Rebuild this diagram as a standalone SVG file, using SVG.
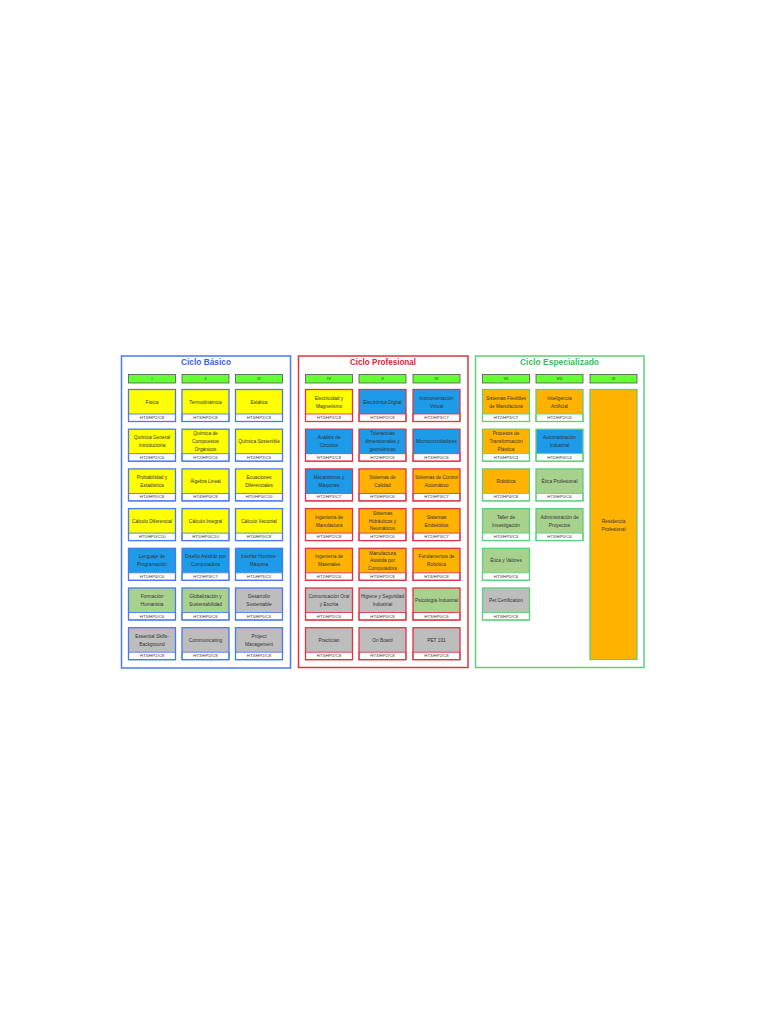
<svg xmlns="http://www.w3.org/2000/svg" width="768" height="1024" viewBox="0 0 768 1024">
<style>
.bg{fill:#fff}
.panel{fill:#fff;stroke-width:1.5}
.pb .panel,.pb .o,.pb .k{stroke:#4a78f0}
.pr .panel,.pr .o,.pr .k{stroke:#dc3545}
.pg .panel,.pg .o,.pg .k{stroke:#5ccf7a}
.o{fill:none;stroke-width:1.3}
.k{fill:#fff;stroke-width:0.9}
.title{font-family:"Liberation Sans",Arial,sans-serif;font-weight:bold;font-size:8.5px;text-anchor:middle}
.pb .title{fill:#3d5ff0}
.pr .title{fill:#d42a3c}
.pg .title{fill:#3dbb5e}
.h{fill:#66ff33;stroke:#555;stroke-width:0.8}
.ht{font-family:"Liberation Sans",Arial,sans-serif;font-size:4px;fill:#333;text-anchor:middle}
.t{font-family:"Liberation Sans",Arial,sans-serif;font-size:4.8px;fill:#333;text-anchor:middle}
.c{font-family:"Liberation Sans",Arial,sans-serif;font-size:4.3px;fill:#333;text-anchor:middle}
.Y{fill:#ffff00}.B{fill:#1e9be8}.O{fill:#ffb300}.G{fill:#a9d18e}.X{fill:#bdbdbd}
</style>
<rect class="bg" width="768" height="1024"/>

<!-- Ciclo Básico -->
<g id="ciclo-basico" class="pb">
<rect class="panel" x="121.5" y="356" width="169" height="312"/>
<text class="title" x="206" y="365.3" textLength="50" lengthAdjust="spacingAndGlyphs">Ciclo Básico</text>
<g id="sem-I"><rect class="h" x="128.5" y="374.5" width="47" height="8.5"/><text class="ht" x="152" y="380.2">I</text></g>
<g id="sem-II"><rect class="h" x="182" y="374.5" width="47" height="8.5"/><text class="ht" x="205.5" y="380.2">II</text></g>
<g id="sem-III"><rect class="h" x="235.5" y="374.5" width="47" height="8.5"/><text class="ht" x="259" y="380.2">III</text></g>

<g id="fisica" transform="translate(128.5,389.5)"><rect class="Y" width="47" height="24.5"/><rect class="k" y="24.5" width="47" height="7.5"/><rect class="o" width="47" height="32"/><text class="t" x="23.5" y="14">Física</text><text class="c" x="23.5" y="29.6">HT3/HP2/C8</text></g>
<g id="termodinamica" transform="translate(182,389.5)"><rect class="Y" width="47" height="24.5"/><rect class="k" y="24.5" width="47" height="7.5"/><rect class="o" width="47" height="32"/><text class="t" x="23.5" y="14">Termodinámica</text><text class="c" x="23.5" y="29.6">HT3/HP2/C8</text></g>
<g id="estatica" transform="translate(235.5,389.5)"><rect class="Y" width="47" height="24.5"/><rect class="k" y="24.5" width="47" height="7.5"/><rect class="o" width="47" height="32"/><text class="t" x="23.5" y="14">Estática</text><text class="c" x="23.5" y="29.6">HT3/HP2/C8</text></g>

<g id="quimica-general" transform="translate(128.5,429.2)"><rect class="Y" width="47" height="24.5"/><rect class="k" y="24.5" width="47" height="7.5"/><rect class="o" width="47" height="32"/><text class="t" x="23.5" y="10.2">Química General</text><text class="t" x="23.5" y="18">Introductoria</text><text class="c" x="23.5" y="29.6">HT2/HP2/C6</text></g>
<g id="quimica-organicos" transform="translate(182,429.2)"><rect class="Y" width="47" height="24.5"/><rect class="k" y="24.5" width="47" height="7.5"/><rect class="o" width="47" height="32"/><text class="t" x="23.5" y="6.3">Química de</text><text class="t" x="23.5" y="14.1">Compuestos</text><text class="t" x="23.5" y="21.9">Orgánicos</text><text class="c" x="23.5" y="29.6">HT2/HP2/C6</text></g>
<g id="quimica-sostenible" transform="translate(235.5,429.2)"><rect class="Y" width="47" height="24.5"/><rect class="k" y="24.5" width="47" height="7.5"/><rect class="o" width="47" height="32"/><text class="t" x="23.5" y="14">Química Sostenible</text><text class="c" x="23.5" y="29.6">HT2/HP2/C6</text></g>

<g id="probabilidad" transform="translate(128.5,468.9)"><rect class="Y" width="47" height="24.5"/><rect class="k" y="24.5" width="47" height="7.5"/><rect class="o" width="47" height="32"/><text class="t" x="23.5" y="10.2">Probabilidad y</text><text class="t" x="23.5" y="18">Estadística</text><text class="c" x="23.5" y="29.6">HT4/HP0/C8</text></g>
<g id="algebra" transform="translate(182,468.9)"><rect class="Y" width="47" height="24.5"/><rect class="k" y="24.5" width="47" height="7.5"/><rect class="o" width="47" height="32"/><text class="t" x="23.5" y="14">Álgebra Lineal</text><text class="c" x="23.5" y="29.6">HT4/HP0/C8</text></g>
<g id="ecuaciones" transform="translate(235.5,468.9)"><rect class="Y" width="47" height="24.5"/><rect class="k" y="24.5" width="47" height="7.5"/><rect class="o" width="47" height="32"/><text class="t" x="23.5" y="10.2">Ecuaciones</text><text class="t" x="23.5" y="18">Diferenciales</text><text class="c" x="23.5" y="29.6">HT5/HP0/C10</text></g>

<g id="calculo-diferencial" transform="translate(128.5,508.6)"><rect class="Y" width="47" height="24.5"/><rect class="k" y="24.5" width="47" height="7.5"/><rect class="o" width="47" height="32"/><text class="t" x="23.5" y="14">Cálculo Diferencial</text><text class="c" x="23.5" y="29.6">HT5/HP0/C10</text></g>
<g id="calculo-integral" transform="translate(182,508.6)"><rect class="Y" width="47" height="24.5"/><rect class="k" y="24.5" width="47" height="7.5"/><rect class="o" width="47" height="32"/><text class="t" x="23.5" y="14">Cálculo Integral</text><text class="c" x="23.5" y="29.6">HT5/HP0/C10</text></g>
<g id="calculo-vectorial" transform="translate(235.5,508.6)"><rect class="Y" width="47" height="24.5"/><rect class="k" y="24.5" width="47" height="7.5"/><rect class="o" width="47" height="32"/><text class="t" x="23.5" y="14">Cálculo Vectorial</text><text class="c" x="23.5" y="29.6">HT4/HP0/C8</text></g>

<g id="lenguaje" transform="translate(128.5,548.3)"><rect class="B" width="47" height="24.5"/><rect class="k" y="24.5" width="47" height="7.5"/><rect class="o" width="47" height="32"/><text class="t" x="23.5" y="10.2">Lenguaje de</text><text class="t" x="23.5" y="18">Programación</text><text class="c" x="23.5" y="29.6">HT1/HP4/C6</text></g>
<g id="diseno" transform="translate(182,548.3)"><rect class="B" width="47" height="24.5"/><rect class="k" y="24.5" width="47" height="7.5"/><rect class="o" width="47" height="32"/><text class="t" x="23.5" y="10.2">Diseño Asistido por</text><text class="t" x="23.5" y="18">Computadora</text><text class="c" x="23.5" y="29.6">HT2/HP3/C7</text></g>
<g id="interfaz" transform="translate(235.5,548.3)"><rect class="B" width="47" height="24.5"/><rect class="k" y="24.5" width="47" height="7.5"/><rect class="o" width="47" height="32"/><text class="t" x="23.5" y="10.2">Interfaz Hombre-</text><text class="t" x="23.5" y="18">Máquina</text><text class="c" x="23.5" y="29.6">HT1/HP3/C5</text></g>

<g id="formacion" transform="translate(128.5,588)"><rect class="G" width="47" height="24.5"/><rect class="k" y="24.5" width="47" height="7.5"/><rect class="o" width="47" height="32"/><text class="t" x="23.5" y="10.2">Formación</text><text class="t" x="23.5" y="18">Humanista</text><text class="c" x="23.5" y="29.6">HT3/HP0/C6</text></g>
<g id="globalizacion" transform="translate(182,588)"><rect class="G" width="47" height="24.5"/><rect class="k" y="24.5" width="47" height="7.5"/><rect class="o" width="47" height="32"/><text class="t" x="23.5" y="10.2">Globalización y</text><text class="t" x="23.5" y="18">Sustentabilidad</text><text class="c" x="23.5" y="29.6">HT3/HP0/C6</text></g>
<g id="desarrollo" transform="translate(235.5,588)"><rect class="X" width="47" height="24.5"/><rect class="k" y="24.5" width="47" height="7.5"/><rect class="o" width="47" height="32"/><text class="t" x="23.5" y="10.2">Desarrollo</text><text class="t" x="23.5" y="18">Sustentable</text><text class="c" x="23.5" y="29.6">HT3/HP0/C6</text></g>

<g id="essential" transform="translate(128.5,627.7)"><rect class="X" width="47" height="24.5"/><rect class="k" y="24.5" width="47" height="7.5"/><rect class="o" width="47" height="32"/><text class="t" x="23.5" y="10.2">Essential Skills-</text><text class="t" x="23.5" y="18">Background</text><text class="c" x="23.5" y="29.6">HT3/HP2/C8</text></g>
<g id="communicating" transform="translate(182,627.7)"><rect class="X" width="47" height="24.5"/><rect class="k" y="24.5" width="47" height="7.5"/><rect class="o" width="47" height="32"/><text class="t" x="23.5" y="14">Communicating</text><text class="c" x="23.5" y="29.6">HT3/HP2/C8</text></g>
<g id="project" transform="translate(235.5,627.7)"><rect class="X" width="47" height="24.5"/><rect class="k" y="24.5" width="47" height="7.5"/><rect class="o" width="47" height="32"/><text class="t" x="23.5" y="10.2">Project</text><text class="t" x="23.5" y="18">Management</text><text class="c" x="23.5" y="29.6">HT3/HP2/C8</text></g>
</g>

<!-- Ciclo Profesional -->
<g id="ciclo-profesional" class="pr">
<rect class="panel" x="298.5" y="356" width="169.5" height="311.5"/>
<text class="title" x="383" y="365.3" textLength="66" lengthAdjust="spacingAndGlyphs">Ciclo Profesional</text>
<g id="sem-IV"><rect class="h" x="305.5" y="374.5" width="47" height="8.5"/><text class="ht" x="329" y="380.2">IV</text></g>
<g id="sem-V"><rect class="h" x="359" y="374.5" width="47" height="8.5"/><text class="ht" x="382.5" y="380.2">V</text></g>
<g id="sem-VI"><rect class="h" x="413" y="374.5" width="47" height="8.5"/><text class="ht" x="436.5" y="380.2">VI</text></g>

<g id="electricidad" transform="translate(305.5,389.5)"><rect class="Y" width="47" height="24.5"/><rect class="k" y="24.5" width="47" height="7.5"/><rect class="o" width="47" height="32"/><text class="t" x="23.5" y="10.2">Electricidad y</text><text class="t" x="23.5" y="18">Magnetismo</text><text class="c" x="23.5" y="29.6">HT3/HP2/C8</text></g>
<g id="electronica" transform="translate(359,389.5)"><rect class="B" width="47" height="24.5"/><rect class="k" y="24.5" width="47" height="7.5"/><rect class="o" width="47" height="32"/><text class="t" x="23.5" y="14">Electrónica Digital</text><text class="c" x="23.5" y="29.6">HT3/HP2/C8</text></g>
<g id="instrumentacion" transform="translate(413,389.5)"><rect class="B" width="47" height="24.5"/><rect class="k" y="24.5" width="47" height="7.5"/><rect class="o" width="47" height="32"/><text class="t" x="23.5" y="10.2">Instrumentación</text><text class="t" x="23.5" y="18">Virtual</text><text class="c" x="23.5" y="29.6">HT2/HP3/C7</text></g>

<g id="analisis" transform="translate(305.5,429.2)"><rect class="B" width="47" height="24.5"/><rect class="k" y="24.5" width="47" height="7.5"/><rect class="o" width="47" height="32"/><text class="t" x="23.5" y="10.2">Análisis de</text><text class="t" x="23.5" y="18">Circuitos</text><text class="c" x="23.5" y="29.6">HT3/HP2/C8</text></g>
<g id="tolerancias" transform="translate(359,429.2)"><rect class="B" width="47" height="24.5"/><rect class="k" y="24.5" width="47" height="7.5"/><rect class="o" width="47" height="32"/><text class="t" x="23.5" y="6.3">Tolerancias</text><text class="t" x="23.5" y="14.1">dimensionales y</text><text class="t" x="23.5" y="21.9">geométricas</text><text class="c" x="23.5" y="29.6">HT2/HP2/C6</text></g>
<g id="microcontroladores" transform="translate(413,429.2)"><rect class="B" width="47" height="24.5"/><rect class="k" y="24.5" width="47" height="7.5"/><rect class="o" width="47" height="32"/><text class="t" x="23.5" y="14">Microcontroladores</text><text class="c" x="23.5" y="29.6">HT3/HP0/C6</text></g>

<g id="mecanismos" transform="translate(305.5,468.9)"><rect class="B" width="47" height="24.5"/><rect class="k" y="24.5" width="47" height="7.5"/><rect class="o" width="47" height="32"/><text class="t" x="23.5" y="10.2">Mecanismos y</text><text class="t" x="23.5" y="18">Máquinas</text><text class="c" x="23.5" y="29.6">HT2/HP3/C7</text></g>
<g id="calidad" transform="translate(359,468.9)"><rect class="O" width="47" height="24.5"/><rect class="k" y="24.5" width="47" height="7.5"/><rect class="o" width="47" height="32"/><text class="t" x="23.5" y="10.2">Sistemas de</text><text class="t" x="23.5" y="18">Calidad</text><text class="c" x="23.5" y="29.6">HT3/HP0/C6</text></g>
<g id="control" transform="translate(413,468.9)"><rect class="O" width="47" height="24.5"/><rect class="k" y="24.5" width="47" height="7.5"/><rect class="o" width="47" height="32"/><text class="t" x="23.5" y="10.2">Sistemas de Control</text><text class="t" x="23.5" y="18">Automático</text><text class="c" x="23.5" y="29.6">HT2/HP3/C7</text></g>

<g id="ing-manufactura" transform="translate(305.5,508.6)"><rect class="O" width="47" height="24.5"/><rect class="k" y="24.5" width="47" height="7.5"/><rect class="o" width="47" height="32"/><text class="t" x="23.5" y="10.2">Ingeniería de</text><text class="t" x="23.5" y="18">Manufactura</text><text class="c" x="23.5" y="29.6">HT3/HP2/C8</text></g>
<g id="hidraulicos" transform="translate(359,508.6)"><rect class="O" width="47" height="24.5"/><rect class="k" y="24.5" width="47" height="7.5"/><rect class="o" width="47" height="32"/><text class="t" x="23.5" y="6.3">Sistemas</text><text class="t" x="23.5" y="14.1">Hidráulicos y</text><text class="t" x="23.5" y="21.9">Neumáticos</text><text class="c" x="23.5" y="29.6">HT2/HP2/C6</text></g>
<g id="embebidos" transform="translate(413,508.6)"><rect class="O" width="47" height="24.5"/><rect class="k" y="24.5" width="47" height="7.5"/><rect class="o" width="47" height="32"/><text class="t" x="23.5" y="10.2">Sistemas</text><text class="t" x="23.5" y="18">Embebidos</text><text class="c" x="23.5" y="29.6">HT2/HP3/C7</text></g>

<g id="materiales" transform="translate(305.5,548.3)"><rect class="O" width="47" height="24.5"/><rect class="k" y="24.5" width="47" height="7.5"/><rect class="o" width="47" height="32"/><text class="t" x="23.5" y="10.2">Ingeniería de</text><text class="t" x="23.5" y="18">Materiales</text><text class="c" x="23.5" y="29.6">HT2/HP2/C6</text></g>
<g id="manufactura-asistida" transform="translate(359,548.3)"><rect class="O" width="47" height="24.5"/><rect class="k" y="24.5" width="47" height="7.5"/><rect class="o" width="47" height="32"/><text class="t" x="23.5" y="6.3">Manufactura</text><text class="t" x="23.5" y="14.1">Asistida por</text><text class="t" x="23.5" y="21.9">Computadora</text><text class="c" x="23.5" y="29.6">HT3/HP2/C8</text></g>
<g id="fundamentos-robotica" transform="translate(413,548.3)"><rect class="O" width="47" height="24.5"/><rect class="k" y="24.5" width="47" height="7.5"/><rect class="o" width="47" height="32"/><text class="t" x="23.5" y="10.2">Fundamentos de</text><text class="t" x="23.5" y="18">Robótica</text><text class="c" x="23.5" y="29.6">HT4/HP0/C8</text></g>

<g id="comunicacion" transform="translate(305.5,588)"><rect class="X" width="47" height="24.5"/><rect class="k" y="24.5" width="47" height="7.5"/><rect class="o" width="47" height="32"/><text class="t" x="23.5" y="10.2">Comunicación Oral</text><text class="t" x="23.5" y="18">y Escrita</text><text class="c" x="23.5" y="29.6">HT1/HP5/C6</text></g>
<g id="higiene" transform="translate(359,588)"><rect class="X" width="47" height="24.5"/><rect class="k" y="24.5" width="47" height="7.5"/><rect class="o" width="47" height="32"/><text class="t" x="23.5" y="10.2">Higiene y Seguridad</text><text class="t" x="23.5" y="18">Industrial</text><text class="c" x="23.5" y="29.6">HT4/HP0/C8</text></g>
<g id="psicologia" transform="translate(413,588)"><rect class="G" width="47" height="24.5"/><rect class="k" y="24.5" width="47" height="7.5"/><rect class="o" width="47" height="32"/><text class="t" x="23.5" y="14">Psicología Industrial</text><text class="c" x="23.5" y="29.6">HT3/HP0/C6</text></g>

<g id="practician" transform="translate(305.5,627.7)"><rect class="X" width="47" height="24.5"/><rect class="k" y="24.5" width="47" height="7.5"/><rect class="o" width="47" height="32"/><text class="t" x="23.5" y="14">Practician</text><text class="c" x="23.5" y="29.6">HT3/HP2/C8</text></g>
<g id="onboard" transform="translate(359,627.7)"><rect class="X" width="47" height="24.5"/><rect class="k" y="24.5" width="47" height="7.5"/><rect class="o" width="47" height="32"/><text class="t" x="23.5" y="14">On Board</text><text class="c" x="23.5" y="29.6">HT3/HP2/C8</text></g>
<g id="pet101" transform="translate(413,627.7)"><rect class="X" width="47" height="24.5"/><rect class="k" y="24.5" width="47" height="7.5"/><rect class="o" width="47" height="32"/><text class="t" x="23.5" y="14">PET 101</text><text class="c" x="23.5" y="29.6">HT3/HP2/C8</text></g>
</g>

<!-- Ciclo Especializado -->
<g id="ciclo-especializado" class="pg">
<rect class="panel" x="475.5" y="356" width="168.5" height="311.5"/>
<text class="title" x="559.5" y="365.3" textLength="79" lengthAdjust="spacingAndGlyphs">Ciclo Especializado</text>
<g id="sem-VII"><rect class="h" x="482.5" y="374.5" width="47" height="8.5"/><text class="ht" x="506" y="380.2">VII</text></g>
<g id="sem-VIII"><rect class="h" x="536" y="374.5" width="47" height="8.5"/><text class="ht" x="559.5" y="380.2">VIII</text></g>
<g id="sem-IX"><rect class="h" x="590" y="374.5" width="47" height="8.5"/><text class="ht" x="613.5" y="380.2">IX</text></g>

<g id="flexibles" transform="translate(482.5,389.5)"><rect class="O" width="47" height="24.5"/><rect class="k" y="24.5" width="47" height="7.5"/><rect class="o" width="47" height="32"/><text class="t" x="23.5" y="10.2">Sistemas Flexibles</text><text class="t" x="23.5" y="18">de Manufactura</text><text class="c" x="23.5" y="29.6">HT2/HP3/C7</text></g>
<g id="inteligencia" transform="translate(536,389.5)"><rect class="O" width="47" height="24.5"/><rect class="k" y="24.5" width="47" height="7.5"/><rect class="o" width="47" height="32"/><text class="t" x="23.5" y="10.2">Inteligencia</text><text class="t" x="23.5" y="18">Artificial</text><text class="c" x="23.5" y="29.6">HT2/HP2/C6</text></g>

<g id="procesos" transform="translate(482.5,429.2)"><rect class="O" width="47" height="24.5"/><rect class="k" y="24.5" width="47" height="7.5"/><rect class="o" width="47" height="32"/><text class="t" x="23.5" y="6.3">Procesos de</text><text class="t" x="23.5" y="14.1">Transformación</text><text class="t" x="23.5" y="21.9">Plástica</text><text class="c" x="23.5" y="29.6">HT0/HP3/C3</text></g>
<g id="automatizacion" transform="translate(536,429.2)"><rect class="B" width="47" height="24.5"/><rect class="k" y="24.5" width="47" height="7.5"/><rect class="o" width="47" height="32"/><text class="t" x="23.5" y="10.2">Automatización</text><text class="t" x="23.5" y="18">Industrial</text><text class="c" x="23.5" y="29.6">HT0/HP4/C4</text></g>

<g id="robotica" transform="translate(482.5,468.9)"><rect class="O" width="47" height="24.5"/><rect class="k" y="24.5" width="47" height="7.5"/><rect class="o" width="47" height="32"/><text class="t" x="23.5" y="14">Robótica</text><text class="c" x="23.5" y="29.6">HT2/HP4/C8</text></g>
<g id="etica-profesional" transform="translate(536,468.9)"><rect class="G" width="47" height="24.5"/><rect class="k" y="24.5" width="47" height="7.5"/><rect class="o" width="47" height="32"/><text class="t" x="23.5" y="14">Ética Profesional</text><text class="c" x="23.5" y="29.6">HT3/HP0/C6</text></g>

<g id="taller" transform="translate(482.5,508.6)"><rect class="G" width="47" height="24.5"/><rect class="k" y="24.5" width="47" height="7.5"/><rect class="o" width="47" height="32"/><text class="t" x="23.5" y="10.2">Taller de</text><text class="t" x="23.5" y="18">Investigación</text><text class="c" x="23.5" y="29.6">HT0/HP3/C3</text></g>
<g id="administracion" transform="translate(536,508.6)"><rect class="G" width="47" height="24.5"/><rect class="k" y="24.5" width="47" height="7.5"/><rect class="o" width="47" height="32"/><text class="t" x="23.5" y="10.2">Administración de</text><text class="t" x="23.5" y="18">Proyectos</text><text class="c" x="23.5" y="29.6">HT3/HP0/C6</text></g>

<g id="etica-valores" transform="translate(482.5,548.3)"><rect class="G" width="47" height="24.5"/><rect class="k" y="24.5" width="47" height="7.5"/><rect class="o" width="47" height="32"/><text class="t" x="23.5" y="14">Ética y Valores</text><text class="c" x="23.5" y="29.6">HT3/HP0/C6</text></g>

<g id="pet-certification" transform="translate(482.5,588)"><rect class="X" width="47" height="24.5"/><rect class="k" y="24.5" width="47" height="7.5"/><rect class="o" width="47" height="32"/><text class="t" x="23.5" y="14">Pet Certification</text><text class="c" x="23.5" y="29.6">HT3/HP2/C8</text></g>

<g id="residencia" transform="translate(590,389.5)"><rect class="O" width="47" height="270"/><rect class="o" width="47" height="270"/><text class="t" x="23.5" y="133.5">Residencia</text><text class="t" x="23.5" y="141.5">Profesional</text></g>
</g>
</svg>
